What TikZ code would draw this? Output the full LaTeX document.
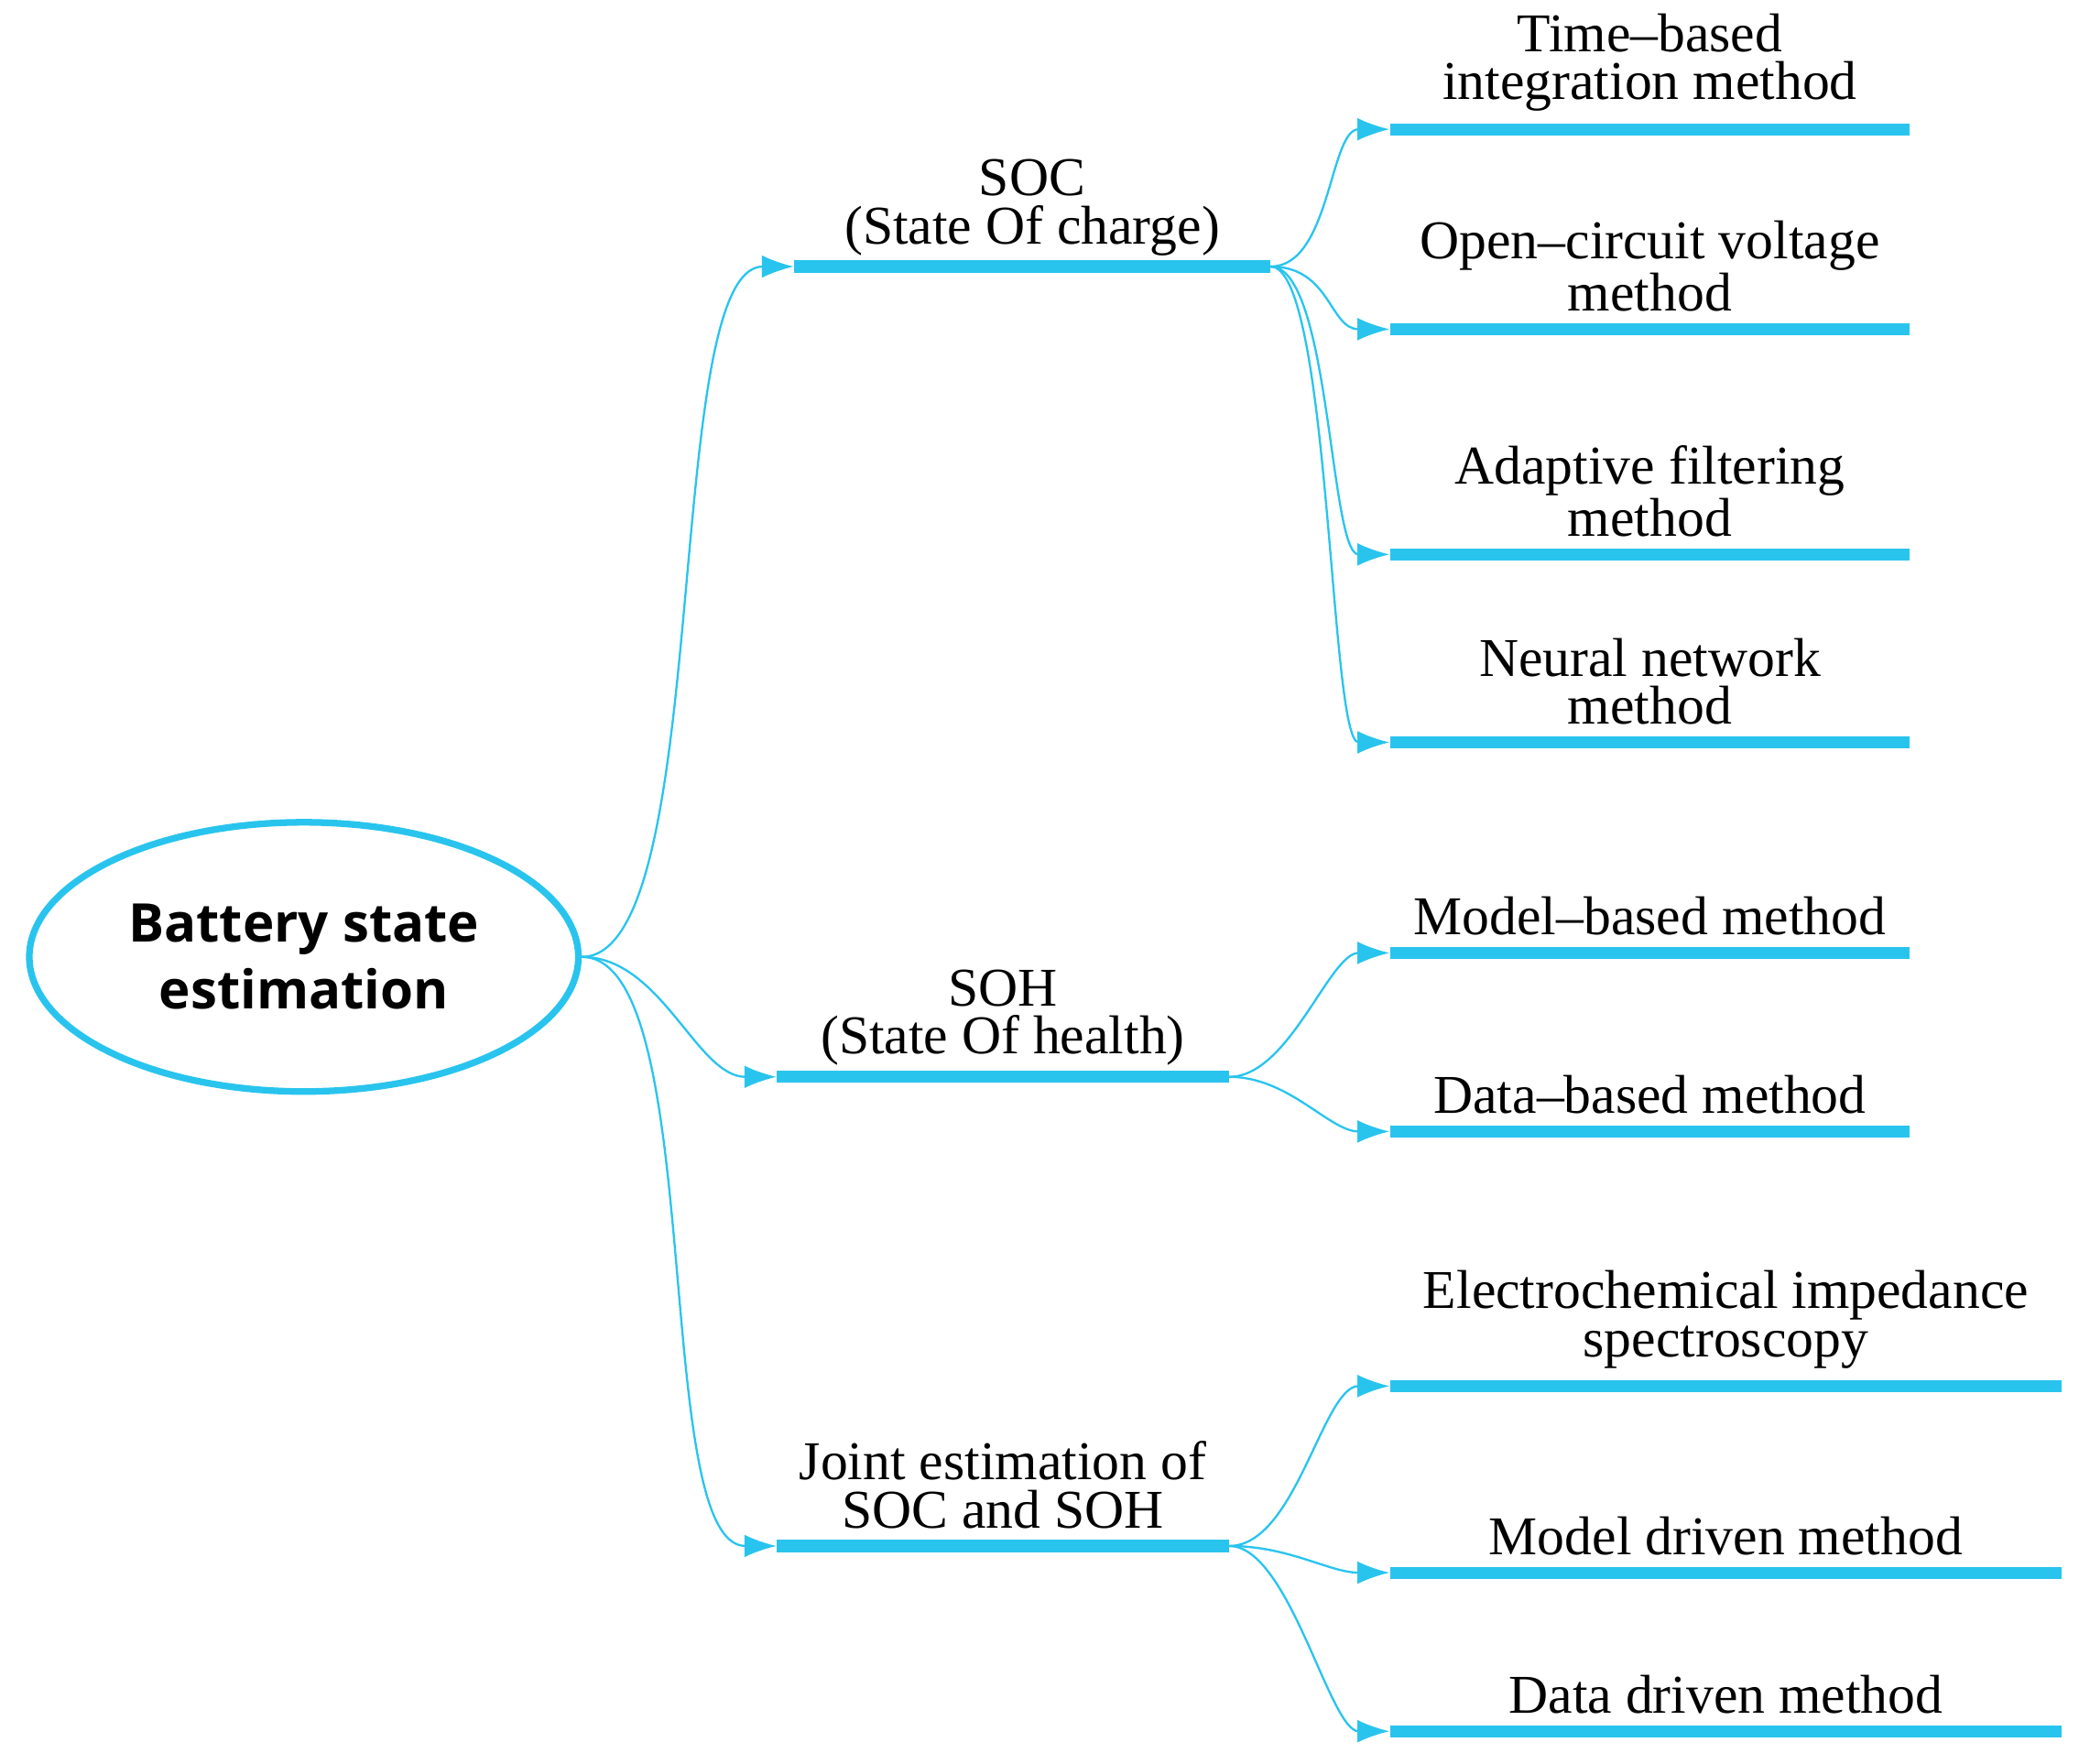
\documentclass[tikz,border=0pt]{standalone}
\usepackage{fontspec}
\setmainfont{Liberation Serif}
\newfontfamily\boldsans{Open Sans}
\usetikzlibrary{arrows.meta,calc,shapes.geometric}
\definecolor{cy}{HTML}{29C4EE}
\begin{document}
\begin{tikzpicture}[x=0.5pt,y=-0.5pt,
  bar/.style={fill=cy,draw=none,minimum height=4.5pt,inner sep=0pt},
  lab/.style={anchor=south,inner sep=0pt,align=center,font=\fontsize{20.5}{18}\selectfont},
  conn/.style={draw=cy,line width=0.8pt,-{Latex[length=12pt,width=8.5pt]}}]
\useasboundingbox (0,0) rectangle (1560,1323);
\node[draw=cy,line width=2.5pt,ellipse,inner sep=0pt,minimum width=206pt,minimum height=101pt,align=center,
  font=\boldsans\bfseries\fontsize{20}{25}\selectfont] (root) at (228,718) {Battery state\\estimation};
\newcommand{\mybar}[4]{\node[bar,minimum width={(#3-#2)*0.5pt}] (#1) at ({(#2+#3)/2},#4) {};}
\mybar{soc}{596}{953}{200}
\mybar{soh}{583}{922}{808}
\mybar{joint}{583}{922}{1160}
\mybar{a1}{1043}{1433}{97}
\mybar{a2}{1043}{1433}{247}
\mybar{a3}{1043}{1433}{416}
\mybar{a4}{1043}{1433}{557}
\mybar{b1}{1043}{1433}{715}
\mybar{b2}{1043}{1433}{849}
\mybar{c1}{1043}{1547}{1040}
\mybar{c2}{1043}{1547}{1180}
\mybar{c3}{1043}{1547}{1299}
\node[lab] (lsoc) at ($(soc.north)+(0,-3)$) {SOC\\(State Of charge)};
\node[lab] (lsoh) at ($(soh.north)+(0,-3)$) {SOH\\(State Of health)};
\node[lab] (ljoint) at ($(joint.north)+(0,-8)$) {Joint estimation of\\SOC and SOH};
\node[lab] (la1) at ($(a1.north)+(0,-8)$) {Time--based\\integration method};
\node[lab] (la2) at ($(a2.north)+(0,-8)$) {Open--circuit voltage\\method};
\node[lab] (la3) at ($(a3.north)+(0,-8)$) {Adaptive filtering\\method};
\node[lab] (la4) at ($(a4.north)+(0,-8)$) {Neural network\\method};
\node[lab] (lb1) at ($(b1.north)+(0,-8)$) {Model--based method};
\node[lab] (lb2) at ($(b2.north)+(0,-8)$) {Data--based method};
\node[lab] (lc1) at ($(c1.north)+(0,-8)$) {Electrochemical impedance\\spectroscopy};
\node[lab] (lc2) at ($(c2.north)+(0,-8)$) {Model driven method};
\node[lab] (lc3) at ($(c3.north)+(0,-8)$) {Data driven method};
\newcommand{\conn}[3]{\draw[conn] (#1.east) .. controls ($(#1.east)+(#3,0)$) and ($(#2.west)+(-#3,0)$) .. (#2.west);}
\conn{root}{soc}{100}
\conn{root}{soh}{60}
\conn{root}{joint}{95}
\conn{soc}{a1}{45}
\conn{soc}{a2}{45}
\conn{soc}{a3}{45}
\conn{soc}{a4}{45}
\conn{soh}{b1}{45}
\conn{soh}{b2}{45}
\conn{joint}{c1}{50}
\conn{joint}{c2}{45}
\conn{joint}{c3}{45}
\end{tikzpicture}
\end{document}
